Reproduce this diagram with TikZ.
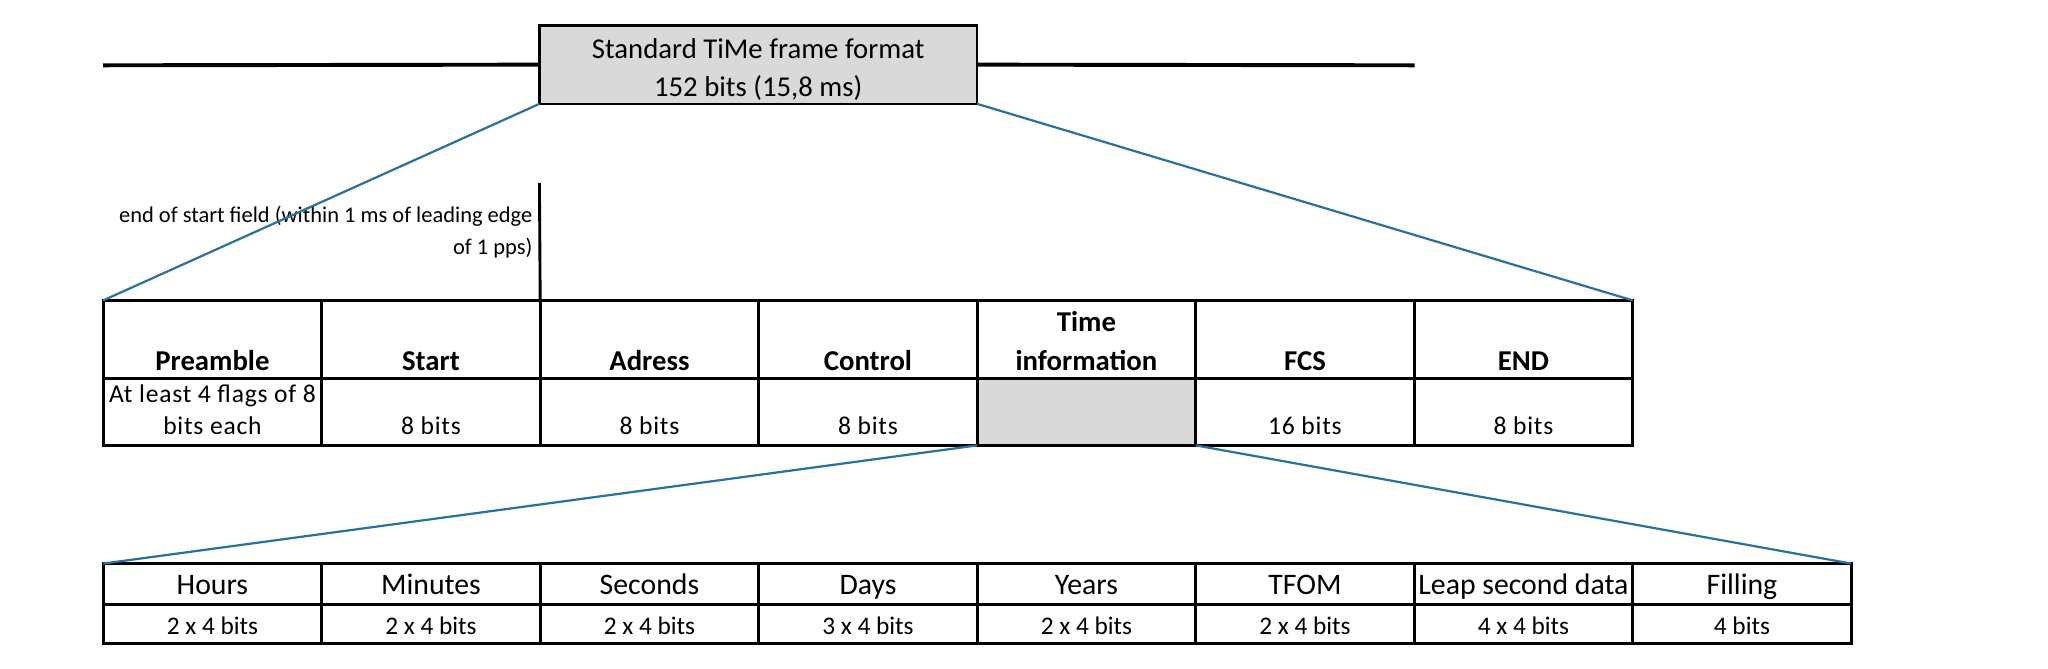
\documentclass[tikz,border=0pt]{standalone}
\usepackage{fontspec}
\setmainfont{Carlito}
\newfontfamily\spacedfont[LetterSpace=3]{Carlito}
\definecolor{gfill}{RGB}{217,217,217}
\definecolor{zoomblue}{RGB}{40,115,155}
\begin{document}
\begin{tikzpicture}[x=0.5pt,y=-0.5pt,
  cellbase/.style={draw=black,line width=1.15pt,inner sep=0pt,outer sep=0pt,anchor=north west,minimum width=83.645pt},
  hcell/.style={cellbase,minimum height=30pt},
  bcell/.style={cellbase,minimum height=25.5pt},
  tcell/.style={cellbase,minimum height=15.5pt},
  ucell/.style={cellbase,minimum height=15pt},
  hd/.style={font=\fontsize{11pt}{13pt}\selectfont\bfseries,anchor=base,inner sep=0pt},
  sm/.style={font=\fontsize{9.7pt}{12pt}\selectfont,anchor=base,inner sep=0pt},
  smsp/.style={font=\fontsize{9.8pt}{12pt}\spacedfont,anchor=base,inner sep=0pt},
  bighd/.style={font=\fontsize{11.4pt}{13pt}\selectfont,anchor=base,inner sep=0pt},
  note/.style={font=\fontsize{8.6pt}{10pt}\selectfont,anchor=base east,inner sep=0pt},
  zoomline/.style={draw=zoomblue,line width=0.85pt},
  topline/.style={draw=black,line width=1.5pt}]
\useasboundingbox (0,0) rectangle (1568,512.2);
% top frame
\coordinate (L) at (79,50);
\coordinate (R) at (1083,50);
\node[draw=black,line width=1pt,fill=gfill,minimum width=167.5pt,minimum height=30pt,inner sep=0pt,outer sep=0pt] (top) at (580.5,49.5) {};
\draw[topline] (L) -- (top.west);
\draw[topline] (top.east) -- (R);
\node[font=\fontsize{11pt}{13pt}\selectfont,anchor=base,inner sep=0pt] (t1) at (580.5,45) {Standard TiMe frame format};
\node[font=\fontsize{11pt}{13pt}\selectfont,anchor=base,inner sep=0pt] (t2) at (580.5,74) {152 bits (15,8 ms)};
% middle table
\foreach \i in {0,...,6} {
  \node[hcell] (h\i) at ({79+167.29*\i},230) {};
}
\foreach \i in {0,1,2,3,5,6} {
  \node[bcell] (b\i) at ({79+167.29*\i},290) {};
}
\node[bcell,fill=gfill] (b4) at ({79+167.29*4},290) {};
\foreach \i/\t in {0/Preamble,1/Start,2/Adress,3/Control,5/FCS,6/END} {
  \node[hd] (ht\i) at ({79+167.29*(\i+0.5)},284) {\t};
}
\node[hd] (ht4a) at ({79+167.29*4.5},254) {Time};
\node[hd] (ht4) at ({79+167.29*4.5},284) {information};
\node[smsp] (bt0a) at ({79+167.29*0.5},308.5) {At least 4 flags of 8};
\node[smsp] (bt0) at ({79+167.29*0.5},332.5) {bits each};
\foreach \i/\t in {1/8 bits,2/8 bits,3/8 bits,5/16 bits,6/8 bits} {
  \node[smsp] (bt\i) at ({79+167.29*(\i+0.5)},332.5) {\t};
}
% annotation
\coordinate (va) at (413,140);
\draw[line width=1.1pt] (va) -- (h2.north west);
\node[note] (n1) at (408,170) {end of start field (within 1 ms of leading edge};
\node[note] (n2) at (408,194.5) {of 1 pps)};
% bottom table
\foreach \i/\a/\b in {0/Hours/2 x 4 bits,1/Minutes/2 x 4 bits,2/Seconds/2 x 4 bits,3/Days/3 x 4 bits,4/Years/2 x 4 bits,5/TFOM/2 x 4 bits,6/Leap second data/4 x 4 bits,7/Filling/4 bits} {
  \node[tcell] (u\i) at ({79+167.29*\i},431.5) {};
  \node[ucell] (v\i) at ({79+167.29*\i},462.5) {};
  \node[bighd] (ut\i) at ({79+167.29*(\i+0.5)},455.5) {\a};
  \node[sm] (vt\i) at ({79+167.29*(\i+0.5)},486) {\b};
}
% zoom lines
\draw[zoomline] (top.south west) -- (h0.north west);
\draw[zoomline] (top.south east) -- (h6.north east);
\draw[zoomline] (b4.south west) -- (u0.north west);
\draw[zoomline] (b4.south east) -- (u7.north east);
\end{tikzpicture}
\end{document}
